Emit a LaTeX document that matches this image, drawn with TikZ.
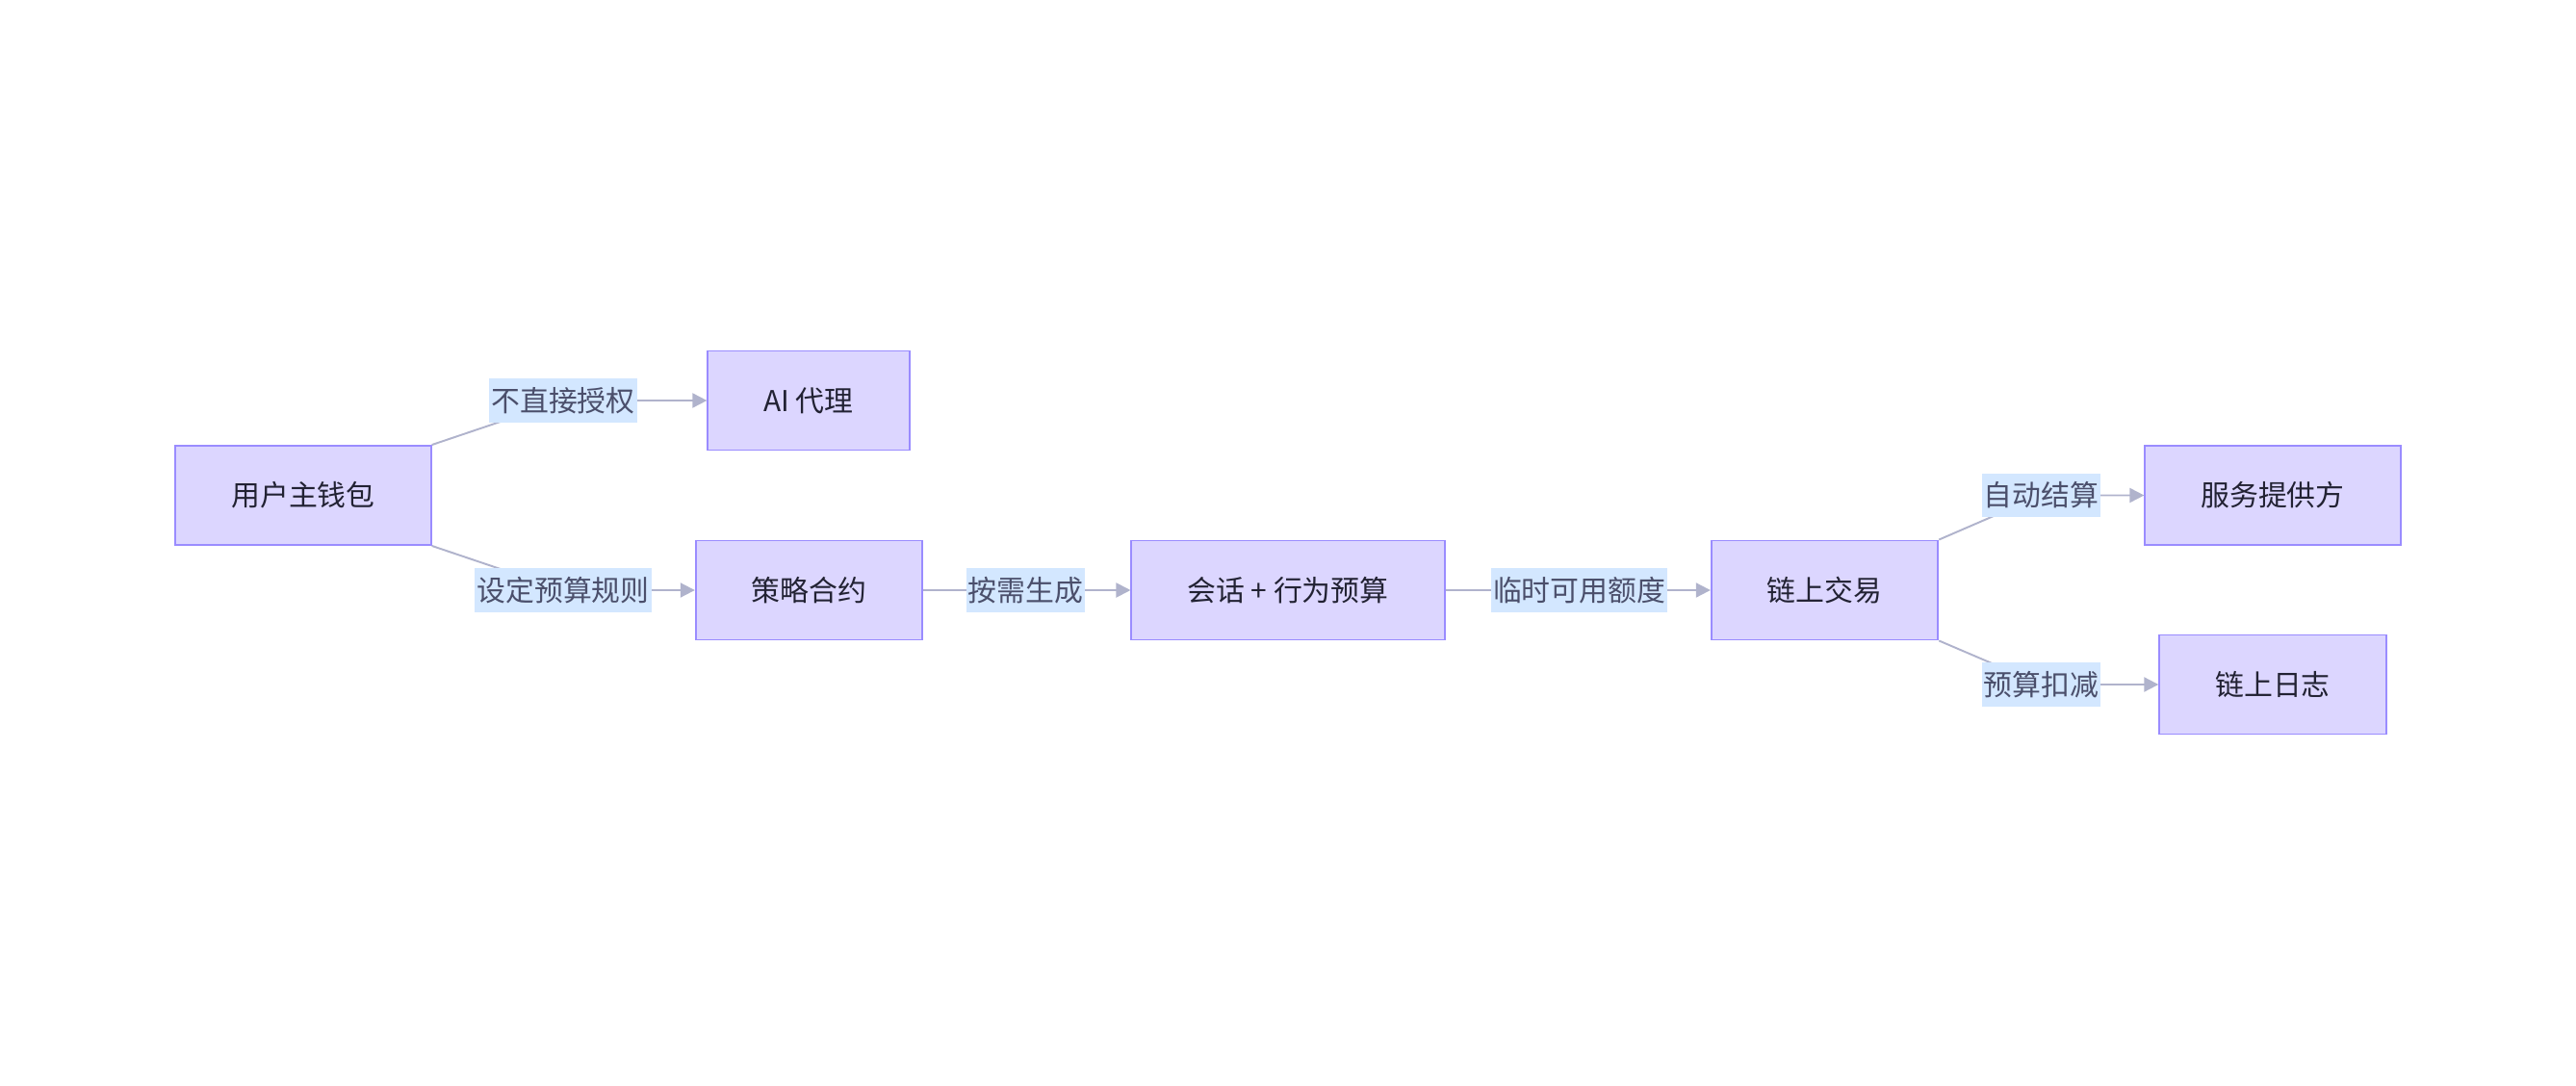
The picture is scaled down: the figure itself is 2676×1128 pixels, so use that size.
\documentclass[tikz,border=0pt]{standalone}
\usepackage{fontspec}
\usepackage{tikz}
\usetikzlibrary{arrows.meta}
\newfontfamily\cjk{Noto Sans CJK SC}
\definecolor{boxfill}{HTML}{DCD6FF}
\definecolor{boxline}{HTML}{9A8CFF}
\definecolor{boxtext}{HTML}{222233}
\definecolor{lblfill}{HTML}{D3E7FF}
\definecolor{lbltext}{HTML}{4B4F6B}
\definecolor{edgecol}{HTML}{B0B3CC}
\tikzset{
  % lavender process box
  flowbox/.style={draw=boxline, fill=boxfill, line width=1.1pt, text=boxtext,
                  font=\cjk\fontsize{17}{20}\selectfont,
                  inner xsep=1.16cm, inner ysep=0pt, minimum height=2.06cm},
  % light blue edge label
  flowlabel/.style={fill=lblfill, text=lbltext,
                    font=\cjk\fontsize{17}{20}\selectfont,
                    inner xsep=0.04cm, inner ysep=0pt, minimum height=0.92cm},
  % connector with filled tip
  flowedge/.style={draw=edgecol, line width=1.1pt,
                   -{Triangle[length=0.3cm, width=0.3cm]}},
}

\begin{document}
\begin{tikzpicture}[x=0.02cm, y=-0.02cm]
  \useasboundingbox (0,0) rectangle (2676,1128);
  % boxes
  \node[flowbox] (wallet)   at ( 315,514.5) {用户主钱包};
  \node[flowbox] (agent)    at ( 840,416)   {AI 代理};
  \node[flowbox] (policy)   at ( 840.5,613) {策略合约};
  \node[flowbox] (session)  at (1338,613)   {会话 + 行为预算};
  \node[flowbox] (chaintx)  at (1895.5,613) {链上交易};
  \node[flowbox] (provider) at (2361,514.5) {服务提供方};
  \node[flowbox] (chainlog) at (2361,711)   {链上日志};

  % label positions
  \coordinate (noauth)  at ( 585,416);
  \coordinate (setrule) at ( 585,613);
  \coordinate (ondemand) at (1065.5,613);
  \coordinate (quota)   at (1640.6,613);
  \coordinate (settle)  at (2120.7,514.5);
  \coordinate (deduct)  at (2120.7,711);

  % connectors
  \draw[flowedge] (wallet.north east) -- (noauth) -- (agent.west);
  \draw[flowedge] (wallet.south east) -- (setrule) -- (policy.west);
  \draw[flowedge] (policy.east) -- (ondemand) -- (session.west);
  \draw[flowedge] (session.east) -- (quota) -- (chaintx.west);
  \draw[flowedge] (chaintx.north east) -- (settle) -- (provider.west);
  \draw[flowedge] (chaintx.south east) -- (deduct) -- (chainlog.west);

  % edge labels
  \node[flowlabel] (noauthlbl)   at (noauth)   {不直接授权};
  \node[flowlabel] (setrulelbl)  at (setrule)  {设定预算规则};
  \node[flowlabel] (ondemandlbl) at (ondemand) {按需生成};
  \node[flowlabel] (quotalbl)    at (quota)    {临时可用额度};
  \node[flowlabel] (settlelbl)   at (settle)   {自动结算};
  \node[flowlabel] (deductlbl)   at (deduct)   {预算扣减};
\end{tikzpicture}
\end{document}
